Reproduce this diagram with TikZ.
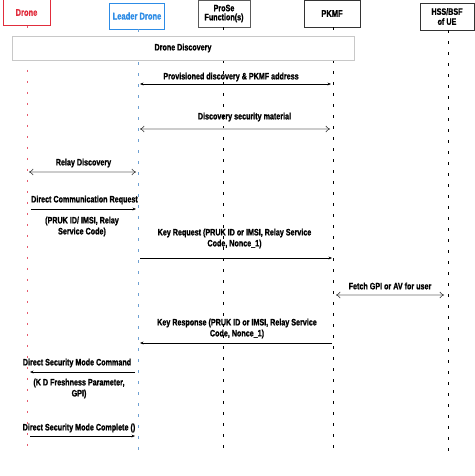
\documentclass[tikz,border=0pt]{standalone}
\usepackage{fontspec}
\setmainfont{Liberation Sans}[FakeStretch=0.77, BoldFeatures={FakeBold=1.2}]
\usetikzlibrary{arrows.meta}
\definecolor{dronered}{RGB}{225,45,60}
\definecolor{droneline}{RGB}{230,90,110}
\definecolor{leaderblue}{RGB}{45,140,230}
\definecolor{leaderline}{RGB}{110,160,210}
\definecolor{boxgray}{RGB}{90,90,90}
\definecolor{discgray}{RGB}{200,200,200}
\begin{document}
\begin{tikzpicture}[x=1pt,y=-1pt,
  every node/.style={font=\fontsize{9.3}{10}\selectfont\bfseries, inner sep=0pt},
  actor/.style={draw, line width=0.8pt, fill=white, minimum height=26pt, align=center, font=\fontsize{9.8}{10}\selectfont\bfseries},
  life/.style={line width=1pt, dash pattern=on 2.5pt off 8.5pt},
  msg/.style={line width=0.8pt, -{Stealth[length=3.5pt,width=2.8pt]}},
  dmsg/.style={line width=0.6pt, draw=black!80, double=black!20, double distance=1.6pt, {Implies}-{Implies}},
  lbl/.style={align=center, font=\fontsize{9.3}{11}\selectfont\bfseries}
]
\useasboundingbox (0,0) rectangle (474,476);
\fill[white] (0,0) rectangle (474,476);

% actors
\node[actor, draw=dronered, text=dronered, minimum width=47pt] (drone) at (26.5,12.5) {Drone};
\node[actor, draw=leaderblue, text=leaderblue, minimum width=55pt] (leader) at (137,16) {Leader Drone};
\node[actor, draw=boxgray, minimum width=52pt, minimum height=27pt, font=\fontsize{9.3}{9}\selectfont\bfseries] (prose) at (224,13.5) {ProSe\\Function(s)};
\node[actor, draw=black!80, minimum width=56pt, minimum height=27pt] (pkmf) at (332,13.5) {PKMF};
\node[actor, draw=black!80, minimum width=54pt, minimum height=27pt, font=\fontsize{9.3}{10}\selectfont\bfseries] (hss) at (447,16.5) {HSS/BSF\\of UE};

% lifeline ends
\coordinate (droneE) at (27,452);
\coordinate (leaderE) at (138,452);
\coordinate (proseE) at (223,452);
\coordinate (pkmfE) at (333,452);
\coordinate (hssE) at (448,452);
\draw[life, droneline] (drone.south -| droneE) -- (droneE);
\draw[life, leaderline] (leader.south -| leaderE) -- (leaderE);
\draw[life, black] (prose.south -| proseE) -- (proseE);
\draw[life, black] (pkmf.south -| pkmfE) -- (pkmfE);
\draw[life, black] (hss.south -| hssE) -- (hssE);

% drone discovery
\node[draw=discgray, line width=0.8pt, fill=white, minimum width=342pt, minimum height=24pt] (disc) at (183,48) {Drone Discovery};

% 1
\coordinate (m1a) at (140,84); \coordinate (m1b) at (331,84);
\draw[line width=0.8pt, {Stealth[length=3.5pt,width=2.8pt]}-{Stealth[length=3.5pt,width=2.8pt]}] (m1a) -- (m1b);
\node[lbl] (t1) at (231,77) {Provisioned discovery \& PKMF address};
% 2
\coordinate (m2a) at (140,129); \coordinate (m2b) at (330,129);
\draw[dmsg] (m2a) -- (m2b);
\node[lbl] (t2) at (244.5,117) {Discovery security material};
% 3
\coordinate (m3a) at (29,172); \coordinate (m3b) at (136,172);
\draw[dmsg] (m3a) -- (m3b);
\node[lbl] (t3) at (83.5,163) {Relay Discovery};
% 4
\coordinate (m4a) at (31,209); \coordinate (m4b) at (136,209);
\draw[msg] (m4a) -- (m4b);
\node[lbl] (t4) at (84.5,200) {Direct Communication Request};
\node[lbl] (t4b) at (82,226.5) {(PRUK ID/ IMSI, Relay\\Service Code)};
% 5
\coordinate (m5a) at (140,258); \coordinate (m5b) at (332,258);
\draw[msg] (m5a) -- (m5b);
\node[lbl] (t5) at (234.5,238.5) {Key Request (PRUK ID or IMSI, Relay Service\\Code, Nonce\_1)};
% 6
\coordinate (m6a) at (336,295); \coordinate (m6b) at (444,295);
\draw[dmsg] (m6a) -- (m6b);
\node[lbl] (t6) at (390,286) {Fetch GPI or AV for user};
% 7
\coordinate (m7a) at (332,343); \coordinate (m7b) at (140,343);
\draw[msg] (m7a) -- (m7b);
\node[lbl] (t7) at (237,328.5) {Key Response (PRUK ID or IMSI, Relay Service\\Code, Nonce\_1)};
% 8
\coordinate (m8a) at (135,372); \coordinate (m8b) at (30,372);
\draw[msg] (m8a) -- (m8b);
\node[lbl] (t8) at (77,363) {Direct Security Mode Command};
\node[lbl] (t8b) at (79,388.5) {(K D Freshness Parameter,\\GPI)};
% 9
\coordinate (m9a) at (30,436); \coordinate (m9b) at (135,436);
\draw[msg] (m9a) -- (m9b);
\node[lbl] (t9) at (79,428) {Direct Security Mode Complete ()};
\end{tikzpicture}
\end{document}
